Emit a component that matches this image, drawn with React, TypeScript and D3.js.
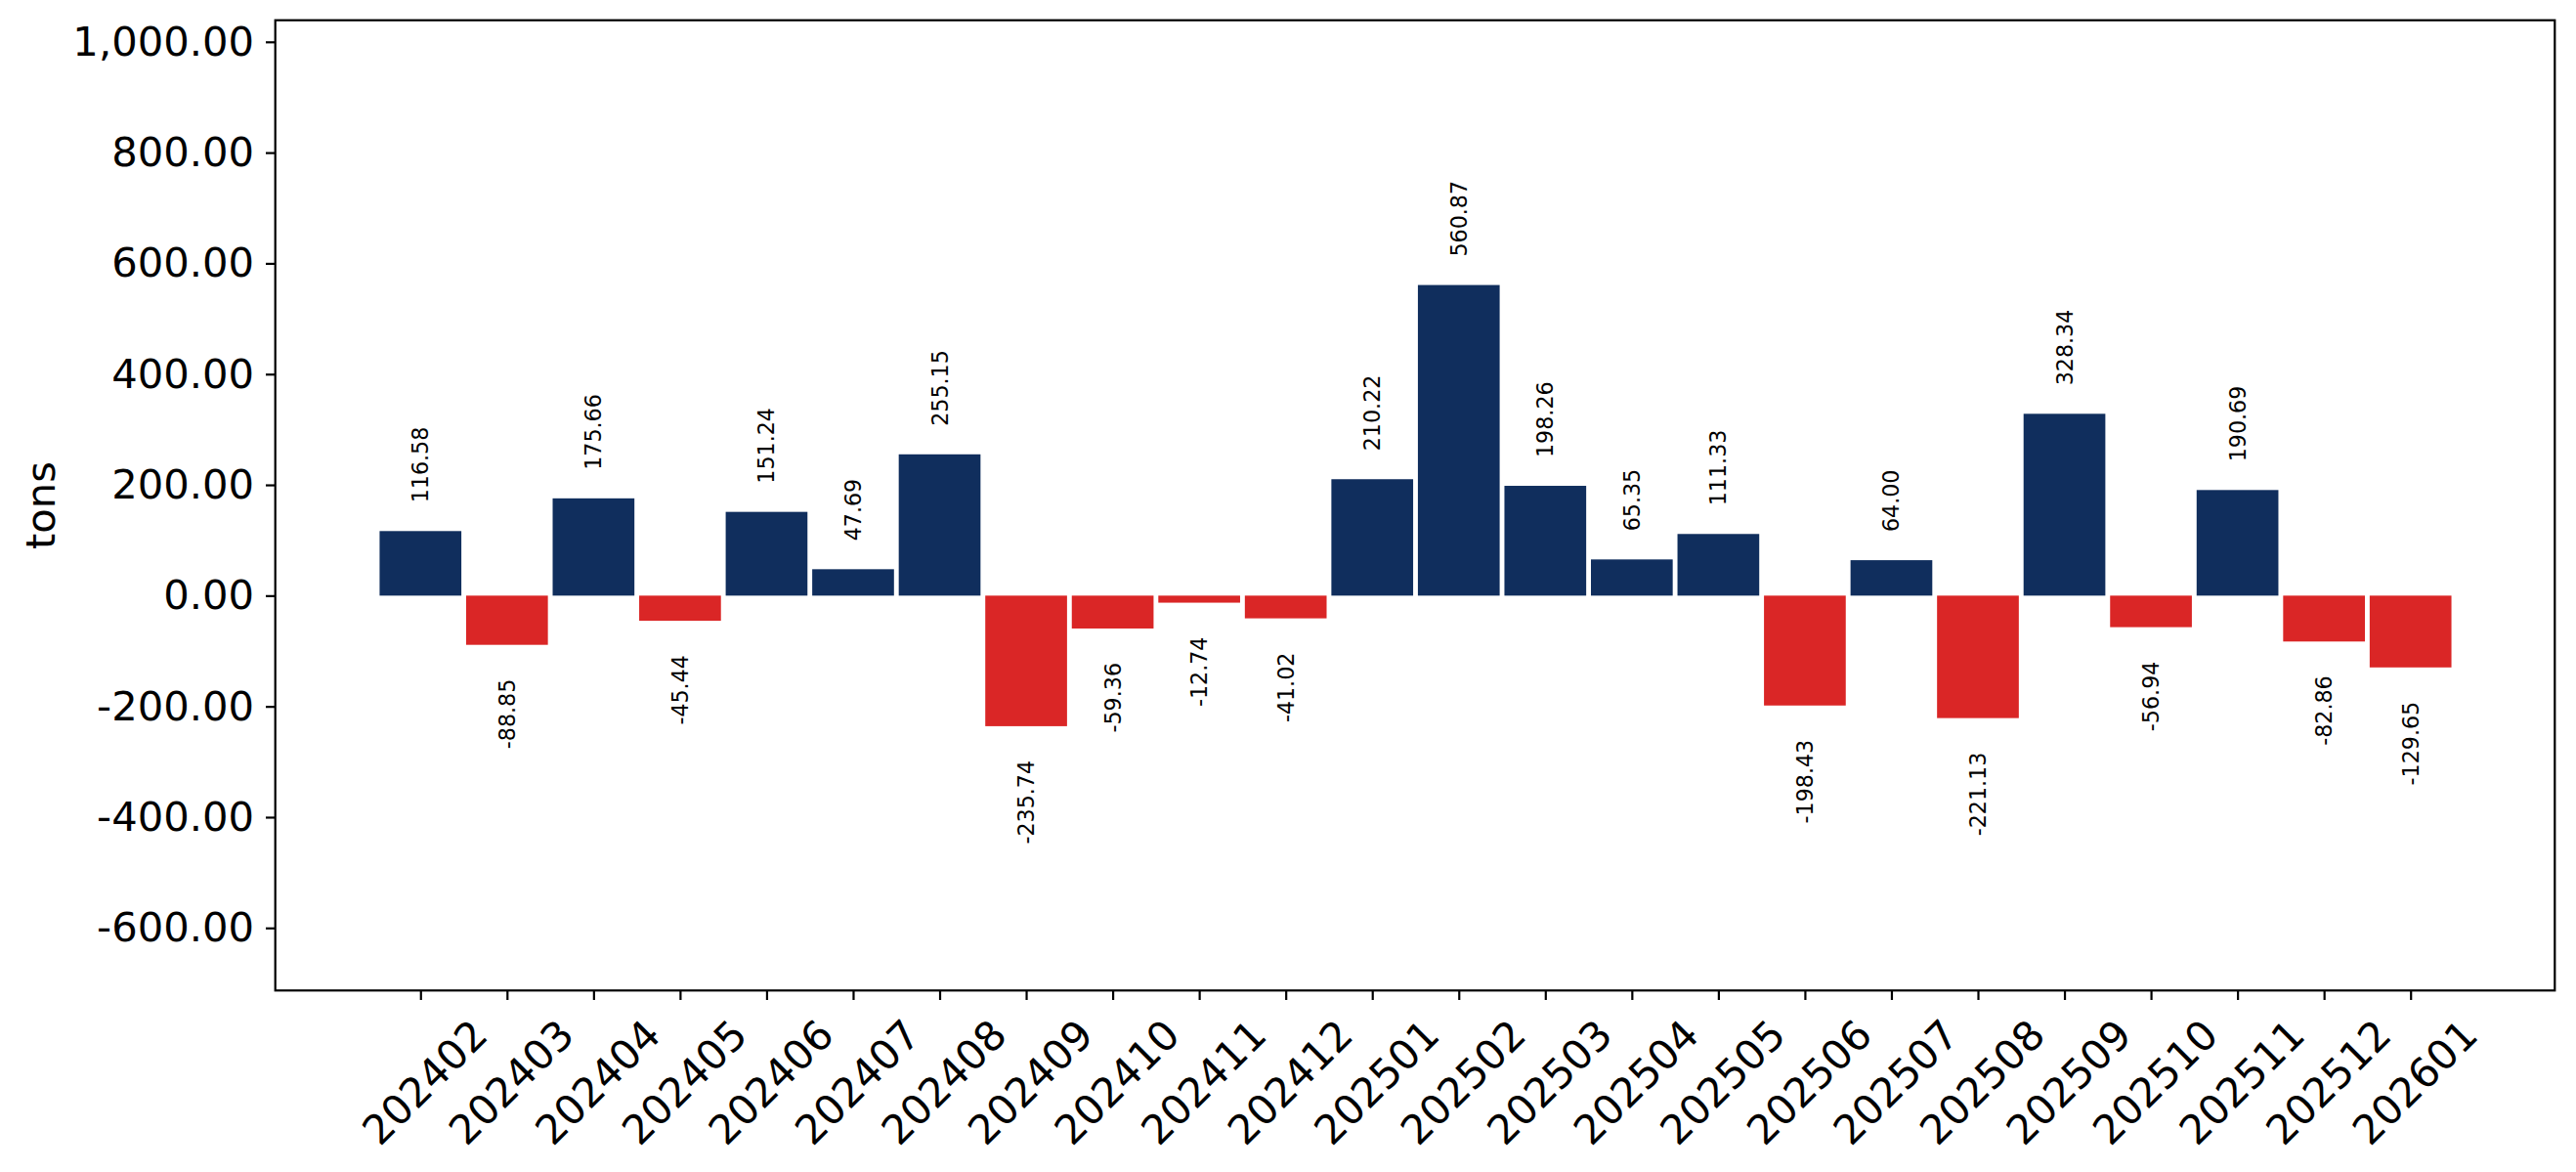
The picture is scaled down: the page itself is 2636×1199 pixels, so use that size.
import React, { useEffect, useRef } from 'react';
import * as d3 from 'd3';

const months = [
  '202402', '202403', '202404', '202405', '202406', '202407', '202408', '202409',
  '202410', '202411', '202412', '202501', '202502', '202503', '202504', '202505',
  '202506', '202507', '202508', '202509', '202510', '202511', '202512', '202601',
];

const values = [
  116.58, -88.85, 175.66, -45.44, 151.24, 47.69, 255.15, -235.74,
  -59.36, -12.74, -41.02, 210.22, 560.87, 198.26, 65.35, 111.33,
  -198.43, 64.0, -221.13, 328.34, -56.94, 190.69, -82.86, -129.65,
];

const yTicks = [-600, -400, -200, 0, 200, 400, 600, 800, 1000];
const yLabel = 'tons';

const WIDTH = 2636;
const HEIGHT = 1199;
const POS_COLOR = '#102e5d';
const NEG_COLOR = '#da2626';
const FONT = '"DejaVu Sans", sans-serif';

// matplotlib style numbers: hyphen minus, thousands comma
const fmt = d3.formatLocale({ decimal: '.', thousands: ',', grouping: [3], currency: ['', ''], minus: '-' }).format(',.2f');

export default function App() {
  const ref = useRef<SVGSVGElement>(null);

  useEffect(() => {
    const svg = d3.select(ref.current);
    svg.selectAll('*').remove();

    // plot area (pixels)
    const left = 281.7, right = 2614.3, top = 20.7, bottom = 1013.3;

    const x = d3.scaleLinear().domain([-1.678, 24.667]).range([left, right]);
    const y = d3.scaleLinear().domain([-713, 1039]).range([bottom, top]);
    const step = x(1) - x(0);
    const barW = step * 0.945;

    // bars
    svg.append('g')
      .selectAll('rect')
      .data(values)
      .enter().append('rect')
      .attr('x', (d, i) => x(i) - barW / 2)
      .attr('y', d => y(Math.max(0, d)))
      .attr('width', barW)
      .attr('height', d => Math.abs(y(d) - y(0)))
      .attr('fill', d => (d >= 0 ? POS_COLOR : NEG_COLOR));

    // value labels
    svg.append('g')
      .selectAll('text')
      .data(values)
      .enter().append('text')
      .attr('transform', (d, i) => {
        const ty = d >= 0 ? y(d) - 29 : y(d) + 35;
        return `translate(${x(i)},${ty}) rotate(-90)`;
      })
      .attr('text-anchor', d => (d >= 0 ? 'start' : 'end'))
      .attr('dominant-baseline', 'central')
      .style('font-family', FONT)
      .style('font-size', '22.2px')
      .attr('fill', '#000')
      .text(d => fmt(d));

    // y axis
    const yAxis = svg.append('g')
      .attr('transform', `translate(${left},0)`)
      .call(d3.axisLeft(y).tickValues(yTicks).tickFormat(d => fmt(+d)).tickSize(9.7).tickPadding(12));
    yAxis.select('.domain').remove();
    yAxis.selectAll('line').attr('stroke', '#000').attr('stroke-width', 2.2);
    yAxis.selectAll('text')
      .style('font-family', FONT)
      .style('font-size', '41.7px')
      .attr('fill', '#000');

    // x axis
    const xAxis = svg.append('g')
      .attr('transform', `translate(0,${bottom})`)
      .call(d3.axisBottom(x).tickValues(d3.range(months.length)).tickFormat((d: any) => months[d]).tickSize(9.7));
    xAxis.select('.domain').remove();
    xAxis.selectAll('line').attr('stroke', '#000').attr('stroke-width', 2.2);
    xAxis.selectAll('text')
      .attr('y', null)
      .attr('dy', null)
      .attr('transform', 'translate(4,94) rotate(-45)')
      .attr('text-anchor', 'middle')
      .attr('dominant-baseline', 'central')
      .style('font-family', FONT)
      .style('font-size', '41.7px')
      .attr('fill', '#000');

    // frame
    svg.append('rect')
      .attr('x', left)
      .attr('y', top)
      .attr('width', right - left)
      .attr('height', bottom - top)
      .attr('fill', 'none')
      .attr('stroke', '#000')
      .attr('stroke-width', 2.2);

    // y label
    svg.append('text')
      .attr('transform', `translate(41,${(top + bottom) / 2}) rotate(-90)`)
      .attr('text-anchor', 'middle')
      .attr('dominant-baseline', 'central')
      .style('font-family', FONT)
      .style('font-size', '41.7px')
      .attr('fill', '#000')
      .text(yLabel);
  }, []);

  return (
    <svg
      ref={ref}
      width={WIDTH}
      height={HEIGHT}
      style={{ position: 'absolute', left: 0, top: 0, background: '#fff' }}
    />
  );
}
